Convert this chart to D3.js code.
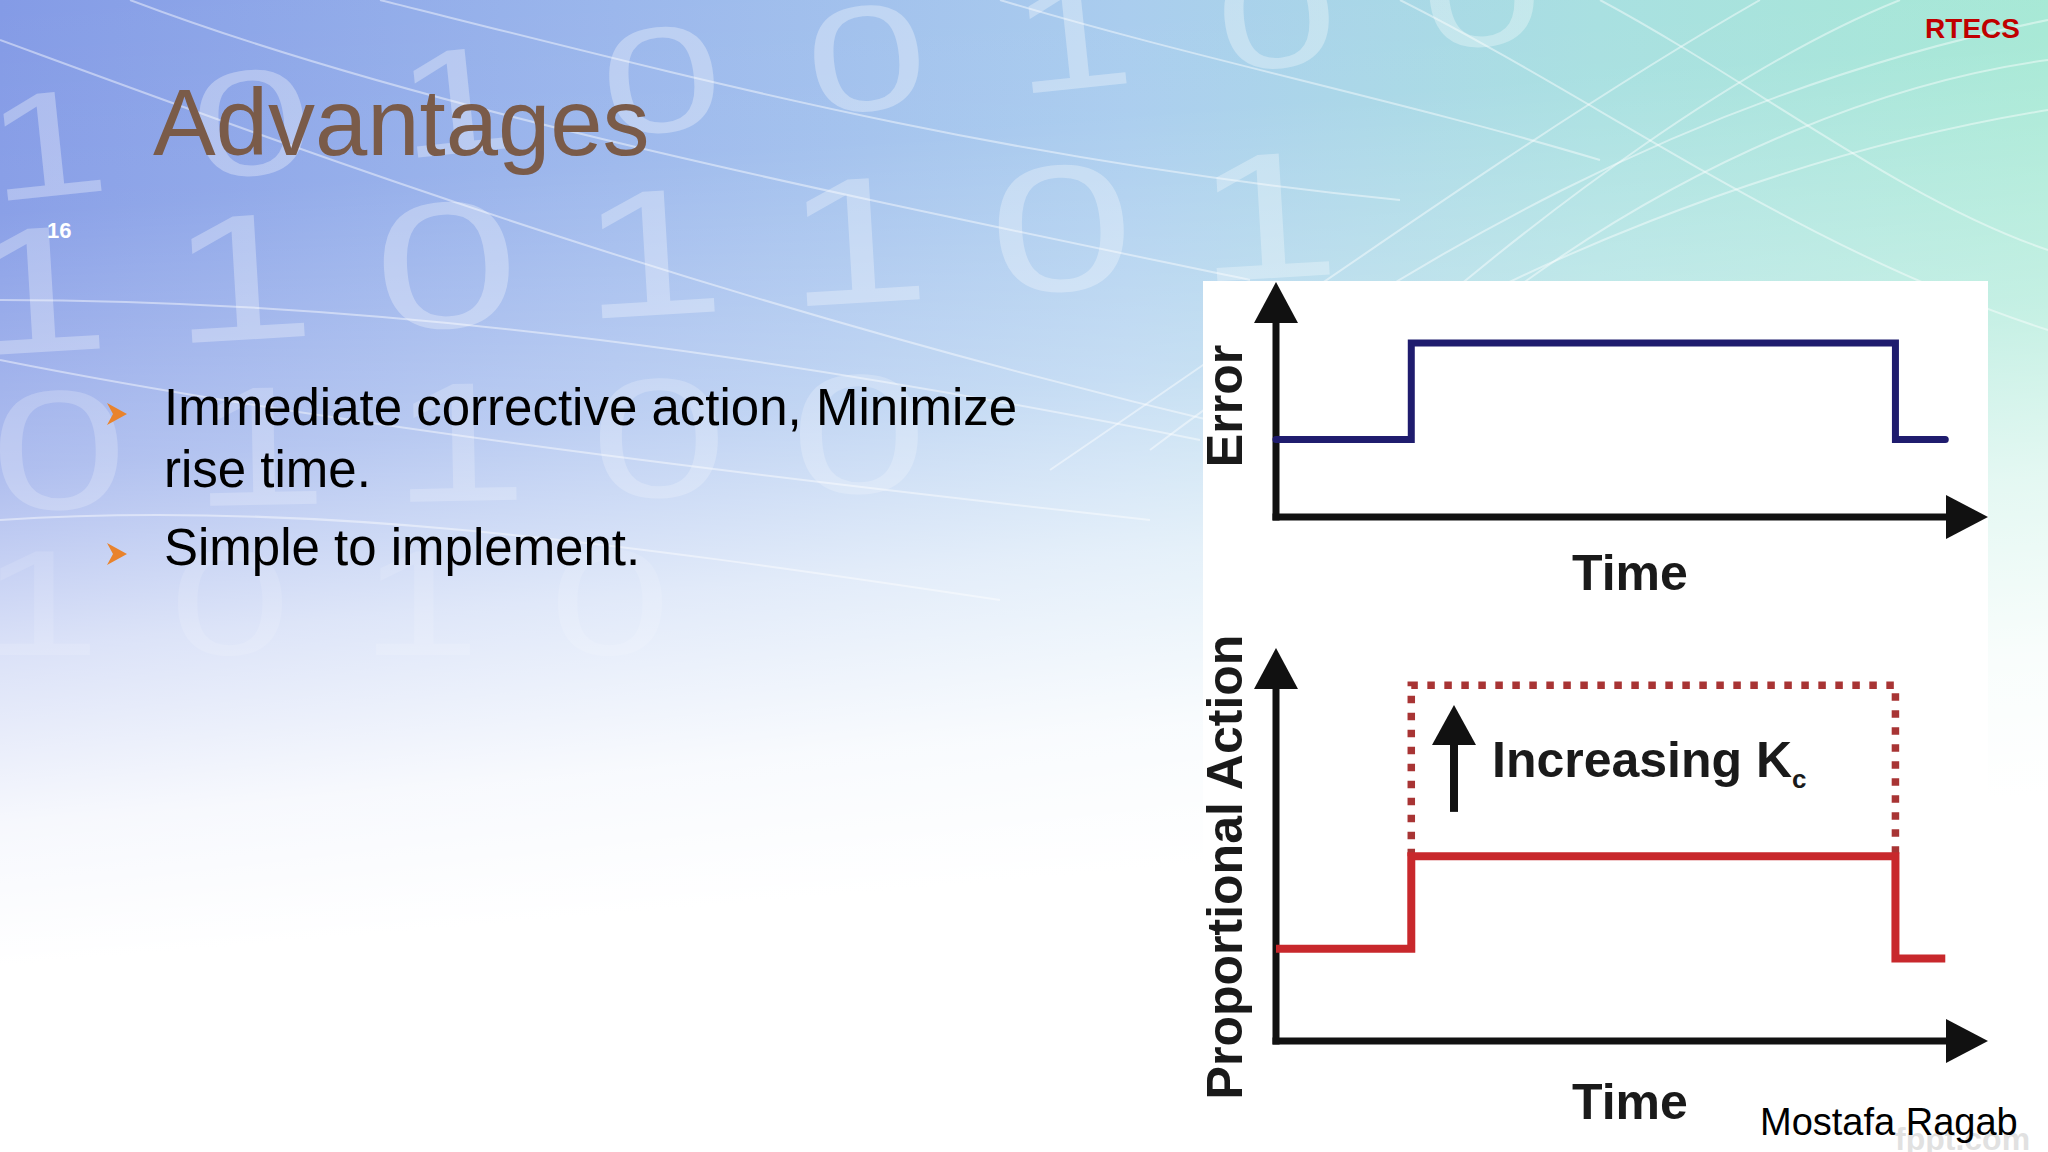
<!DOCTYPE html>
<html>
<head>
<meta charset="utf-8">
<script src="https://cdn.jsdelivr.net/npm/d3@7"></script>
<style>
  html, body { margin: 0; padding: 0; background: #fff; }
  svg { display: block; }
  text { font-family: "Liberation Sans", Arial, sans-serif; }
</style>
</head>
<body>
<svg id="chart" width="2048" height="1152"></svg>
<script>
// ---------------- data ----------------
const slideTitle = "Advantages";
const slideNumber = "16";
const brand = "RTECS";
const author = "Mostafa Ragab";
const bulletLines = [
  ["Immediate corrective action, Minimize", "rise time."],
  ["Simple to implement."]
];
const timeDomain = [0, 100];
const valueDomain = [0, 10];
const errorTimes = [0, 19, 19, 87, 87, 94];
const errorValues = [3.3, 3.3, 7.4, 7.4, 3.3, 3.3];
const actionTimes = [0, 19, 19, 87, 87, 94];
const actionValues = [2.35, 2.35, 4.7, 4.7, 2.1, 2.1];
const increasedTimes = [19, 19, 87, 87];
const increasedValues = [4.7, 9.05, 9.05, 4.7];
const kcArrowTime = [25, 25];
const kcArrowValues = [5.83, 8.55];
const axisLabels = { top: "Error", bottom: "Proportional Action", x: "Time" };
const annotation = { main: "Increasing K", sub: "c" };
const bgDigitRows = ["10100100", "1101101", "01100", "1010"];

// ---------------- drawing ----------------
const svg = d3.select("#chart");
const W = 2048, H = 1152;
const defs = svg.append("defs");

const gH = defs.append("linearGradient").attr("id", "bgH").attr("x1", 0).attr("y1", 0).attr("x2", 1).attr("y2", 0);
[[0, "#849be6"], [0.3, "#9ab6ec"], [0.55, "#a8ccee"], [0.78, "#a6dfe0"], [1, "#a4e8d4"]]
  .forEach(([o, c]) => gH.append("stop").attr("offset", o).attr("stop-color", c));

const gV = defs.append("linearGradient").attr("id", "bgV").attr("x1", 0).attr("y1", 0).attr("x2", 0.15).attr("y2", 1);
[[0, 0], [0.18, 0.05], [0.4, 0.35], [0.55, 0.7], [0.7, 0.93], [0.82, 1], [1, 1]]
  .forEach(([o, a]) => gV.append("stop").attr("offset", o).attr("stop-color", "#ffffff").attr("stop-opacity", a));

svg.append("rect").attr("width", W).attr("height", H).attr("fill", "url(#bgH)");

// faint binary digits (decoration)
const rowCfg = [
  { x0: 52, dx: 205, y0: 196, slope: -0.105, fs: 150, op: 0.32 },
  { x0: 40, dx: 205, y0: 352, slope: -0.06, fs: 180, op: 0.3 },
  { x0: 60, dx: 200, y0: 509, slope: -0.02, fs: 170, op: 0.22 },
  { x0: 40, dx: 190, y0: 655, slope: 0, fs: 150, op: 0.12 }
];
const digitG = svg.append("g").attr("fill", "#ffffff");
bgDigitRows.forEach((row, i) => {
  const c = rowCfg[i];
  row.split("").forEach((ch, k) => {
    const cx = c.x0 + k * c.dx;
    const by = c.y0 + (cx - c.x0) * c.slope;
    digitG.append("text")
      .attr("transform", `translate(${cx},${by}) rotate(${Math.atan(c.slope) * 180 / Math.PI}) scale(1.45,1)`)
      .attr("text-anchor", "middle")
      .attr("font-size", c.fs).attr("fill-opacity", c.op)
      .text(ch);
  });
});

// white sweeping curves
const curves = [
  "M0,40 C300,150 700,300 1250,430",
  "M130,0 C420,110 820,190 1250,280",
  "M0,300 C400,300 800,360 1200,440",
  "M0,360 C300,420 700,470 1150,520",
  "M380,0 C700,80 1000,160 1400,200",
  "M1000,0 C1200,60 1400,100 1600,160",
  "M1050,470 C1300,300 1550,120 1760,0",
  "M1150,450 C1400,260 1700,90 2048,20",
  "M1250,430 C1500,260 1800,150 2048,110",
  "M1350,380 C1550,200 1750,60 1900,0",
  "M1500,300 C1700,150 1900,80 2048,60",
  "M1400,0 C1600,100 1800,250 2048,330",
  "M1600,0 C1750,80 1900,200 2048,250",
  "M0,520 C300,500 600,540 1000,600"
];
svg.append("g").selectAll("path").data(curves).join("path")
  .attr("d", d => d).attr("fill", "none")
  .attr("stroke", "#ffffff").attr("stroke-opacity", 0.45).attr("stroke-width", 2);

svg.append("rect").attr("width", W).attr("height", H).attr("fill", "url(#bgV)");

// title etc.
svg.append("text").attr("x", 153).attr("y", 155).attr("font-size", 94)
  .attr("fill", "#7a5b49").text(slideTitle);
svg.append("text").attr("x", 47).attr("y", 238).attr("font-size", 22)
  .attr("font-weight", "bold").attr("fill", "#ffffff").text(slideNumber);
svg.append("text").attr("x", 2020).attr("y", 38).attr("font-size", 28)
  .attr("font-weight", "bold").attr("fill", "#c00000").attr("text-anchor", "end").text(brand);

// bullets
const bulletBaselines = [[425, 487], [565]];
bulletLines.forEach((lines, i) => {
  const by = bulletBaselines[i][0] - 11;
  svg.append("path")
    .attr("d", `M107,${by - 11} L127,${by} L107,${by + 11} L113,${by} Z`)
    .attr("fill", "#e9832c");
  lines.forEach((ln, j) => {
    svg.append("text").attr("x", 164).attr("y", bulletBaselines[i][j])
      .attr("font-size", 51).attr("fill", "#000").text(ln);
  });
});

// white figure panel
svg.append("rect").attr("x", 1203).attr("y", 281).attr("width", 785).attr("height", H - 281)
  .attr("fill", "#ffffff");

// scales
const x = d3.scaleLinear().domain(timeDomain).range([1276, 1988]);
const yTop = d3.scaleLinear().domain(valueDomain).range([517, 282]);
const yBot = d3.scaleLinear().domain(valueDomain).range([1041, 648]);

function drawAxes(y) {
  const g = svg.append("g");
  const ax = g.append("g").attr("transform", `translate(0,${y(0)})`)
    .call(d3.axisBottom(x).ticks(0).tickSize(0).tickSizeOuter(0));
  ax.select(".domain").attr("stroke", "#111").attr("stroke-width", 7).attr("stroke-linecap", "square")
    .attr("d", `M${x(0)},0H${x(timeDomain[1]) - 30}`);
  ax.selectAll("text").remove();
  const ay = g.append("g").attr("transform", `translate(${x(0)},0)`)
    .call(d3.axisLeft(y).ticks(0).tickSize(0).tickSizeOuter(0));
  ay.select(".domain").attr("stroke", "#111").attr("stroke-width", 7).attr("stroke-linecap", "square")
    .attr("d", `M0,${y(0)}V${y(valueDomain[1]) + 30}`);
  ay.selectAll("text").remove();
  // arrowheads
  const tipY = y(valueDomain[1]), x0 = x(0);
  g.append("path").attr("d", `M${x0},${tipY} L${x0 + 22},${tipY + 41} L${x0 - 22},${tipY + 41} Z`).attr("fill", "#111");
  const tipX = x(timeDomain[1]), y0 = y(0);
  g.append("path").attr("d", `M${tipX},${y0} L${tipX - 42},${y0 - 22} L${tipX - 42},${y0 + 22} Z`).attr("fill", "#111");
}
drawAxes(yTop);
drawAxes(yBot);

const lineTop = d3.line().x(d => x(d[0])).y(d => yTop(d[1]));
const lineBot = d3.line().x(d => x(d[0])).y(d => yBot(d[1]));

svg.append("path").attr("d", lineTop(d3.zip(errorTimes, errorValues)))
  .attr("fill", "none").attr("stroke", "#1f1c6e").attr("stroke-width", 7)
  .attr("stroke-linejoin", "miter").attr("stroke-linecap", "round");

svg.append("path").attr("d", lineBot(d3.zip(increasedTimes, increasedValues)))
  .attr("fill", "none").attr("stroke", "#a83434").attr("stroke-width", 7.5)
  .attr("stroke-dasharray", "7.5 9.5");

svg.append("path").attr("d", lineBot(d3.zip(actionTimes, actionValues)))
  .attr("fill", "none").attr("stroke", "#c8282c").attr("stroke-width", 8)
  .attr("stroke-linejoin", "miter");

// Kc arrow
const ax0 = x(kcArrowTime[0]);
const aBottom = yBot(kcArrowValues[0]), aTip = yBot(kcArrowValues[1]);
svg.append("line").attr("x1", ax0).attr("x2", ax0).attr("y1", aBottom).attr("y2", aTip + 30)
  .attr("stroke", "#111").attr("stroke-width", 8);
svg.append("path").attr("d", `M${ax0},${aTip} L${ax0 + 22},${aTip + 40} L${ax0 - 22},${aTip + 40} Z`).attr("fill", "#111");

const kcText = svg.append("text").attr("x", 1492).attr("y", 777)
  .attr("font-size", 50).attr("font-weight", "bold").attr("fill", "#1a1a1a");
kcText.append("tspan").text(annotation.main);
kcText.append("tspan").attr("font-size", 26).attr("dy", 11).text(annotation.sub);

// axis labels
function vlabel(txt, cx, cy) {
  svg.append("text").attr("transform", `translate(${cx},${cy}) rotate(-90)`)
    .attr("text-anchor", "middle").attr("font-size", 50).attr("font-weight", "bold")
    .attr("fill", "#1a1a1a").text(txt);
}
vlabel(axisLabels.top, 1242, 406);
vlabel(axisLabels.bottom, 1242, 867);
[590, 1119].forEach(b => {
  svg.append("text").attr("x", 1630).attr("y", b).attr("text-anchor", "middle")
    .attr("font-size", 50).attr("font-weight", "bold").attr("fill", "#1a1a1a").text(axisLabels.x);
});

// footer
svg.append("text").attr("x", 1895).attr("y", 1150).attr("font-size", 32).attr("font-weight", "bold")
  .attr("fill", "#c8c8c8").attr("fill-opacity", 0.55).text("fppt.com");
svg.append("text").attr("x", 1760).attr("y", 1135).attr("font-size", 38).attr("fill", "#000").text(author);
</script>
</body>
</html>
